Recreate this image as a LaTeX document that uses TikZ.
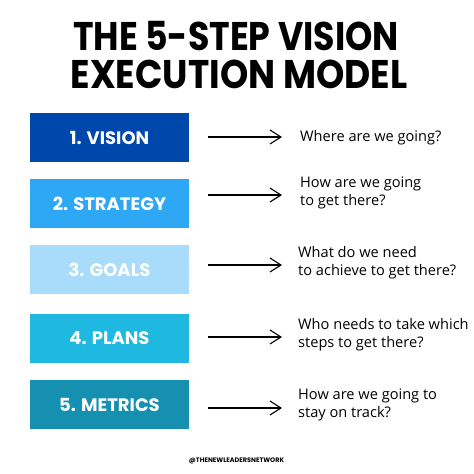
\documentclass[tikz,border=0pt]{standalone}
\usepackage{fontspec}
\setmainfont{Open Sans}
\newfontfamily\popfont{Poppins}
\usetikzlibrary{arrows.meta}
\definecolor{cA}{HTML}{0047AB}
\definecolor{cB}{HTML}{2EA8F5}
\definecolor{cC}{HTML}{A8DCFA}
\definecolor{cD}{HTML}{1FB8E0}
\definecolor{cE}{HTML}{1590B0}
\tikzset{
  stepbox/.style={minimum width=159pt, minimum height=49pt, inner sep=0pt,
    text=white, font=\popfont\bfseries\fontsize{18}{18}\selectfont,
    text height=13pt, text depth=0pt},
  ttl/.style={anchor=base, inner sep=0pt, font=\popfont\bfseries\fontsize{40}{40}\selectfont},
  ans/.style={anchor=north west, inner sep=0pt, align=left,
    font=\fontsize{14.6}{18}\selectfont},
  arr/.style={line width=1.1pt, -{Straight Barb[length=11pt,width=14pt,line width=1.1pt]}}
}
\begin{document}
\begin{tikzpicture}[x=1pt,y=-1pt]
\useasboundingbox (0,0) rectangle (474,474);
\node[ttl] (t1) at (236,50) {\scalebox{0.87}[1]{THE 5-STEP VISION}};
\node[ttl] (t2) at (239,88) {\scalebox{0.9}[1]{EXECUTION MODEL}};
\node[stepbox, fill=cA] (b1) at (109.5,137.5) {1. VISION};
\node[stepbox, fill=cB] (b2) at (109.5,203.5) {2. STRATEGY};
\node[stepbox, fill=cC] (b3) at (109.5,269.5) {3. GOALS};
\node[stepbox, fill=cD] (b4) at (109.5,338) {4. PLANS};
\node[stepbox, fill=cE] (b5) at (109.5,404.5) {5. METRICS};
\coordinate (s1) at (208,137); \coordinate (e1) at (282,137);
\coordinate (s2) at (208,195); \coordinate (e2) at (282,195);
\coordinate (s3) at (208,265); \coordinate (e3) at (282,265);
\coordinate (s4) at (208,337); \coordinate (e4) at (282,337);
\coordinate (s5) at (208,408); \coordinate (e5) at (282,408);
\foreach \i in {1,...,5} { \draw[arr] (s\i) -- (e\i); }
\node[ans] (a1) at (300,130) {Where are we going?};
\node[ans] (a2) at (300,177) {How are we going\\to get there?};
\node[ans] (a3) at (298,246) {What do we need\\to achieve to get there?};
\node[ans] (a4) at (298,318) {Who needs to take which\\steps to get there?};
\node[ans] (a5) at (298,389) {How are we going to\\stay on track?};
\node[inner sep=0pt, anchor=base, font=\popfont\bfseries\fontsize{6.5}{6.5}\selectfont] (ft) at (236.5,462) {@THENEWLEADERSNETWORK};
\end{tikzpicture}
\end{document}
